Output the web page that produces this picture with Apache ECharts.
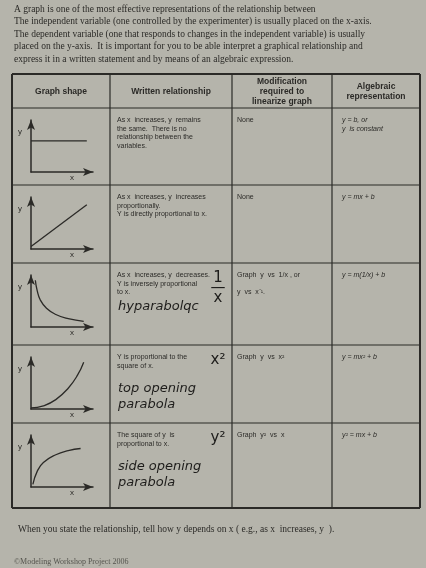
<!DOCTYPE html>
<html><head><meta charset="utf-8">
<script src="https://cdn.jsdelivr.net/npm/echarts@6/dist/echarts.min.js"></script>
<style>html,body{margin:0;padding:0;background:#b5b4ab}#c{width:426px;height:568px}</style>
</head><body><div id="c"></div>
<script>
// hand-read shapes of the little sketches (x 0..10, y 0..10)
const constLine = [[0, 6], [9, 6]];
const linear = [[0, 0.5], [9, 8.5]];
const inverse = [[0.7, 9], [1, 7], [1.5, 5.2], [2.5, 3.6], [4, 2.4], [6, 1.6], [8.5, 1.1]];
const square = [[0, 0.2], [2, 0.6], [4, 1.8], [6, 4], [7.5, 6.5], [8.5, 9]];
const sideRoot = [[0.3, 0.5], [1, 3], [2, 4.7], [4, 6.2], [6, 7], [8, 7.4]];
const shapes = [constLine, linear, inverse, square, sideRoot];

const written = [
  "As x  increases, y  remains\nthe same.  There is no\nrelationship between the\nvariables.",
  "As x  increases, y  increases\nproportionally.\nY is directly proportional to x.",
  "As x  increases, y  decreases.\nY is inversely proportional\nto x.",
  "Y is proportional to the\nsquare of x.",
  "The square of y  is\nproportional to x."
];
const notes = ["", "", "hyparabolqc", "top opening\nparabola", "side opening\nparabola"];
const marks = ["", "", "1\n—\nx", "x²", "y²"];
const modification = ["None", "None", "Graph  y  vs  1/x , or\n\ny  vs  x⁻¹.", "Graph  y  vs  x²", "Graph  y²  vs  x"];
const algebraic = ["y = b, or\ny  is constant", "y = mx + b", "y = m(1/x) + b", "y = mx² + b", "y² = mx + b"];
const headers = ["Graph shape", "Written relationship", "Modification\nrequired to\nlinearize graph", "Algebraic\nrepresentation"];

const cols = [12, 110, 232, 332, 420];
const rows = [74, 108, 185, 263, 345, 423, 508];
const ink = '#2b2a27';

const chart = echarts.init(document.getElementById('c'));
const g = [];
rows.forEach((y, i) => g.push({type: 'line', shape: {x1: cols[0], y1: y, x2: cols[4], y2: y},
  style: {stroke: ink, lineWidth: (i === 0 || i === rows.length - 1) ? 2 : 1.2}}));
cols.forEach((x, i) => g.push({type: 'line', shape: {x1: x, y1: rows[0], x2: x, y2: rows[rows.length - 1]},
  style: {stroke: ink, lineWidth: (i === 0 || i === 4) ? 2 : 1.2}}));
headers.forEach((h, i) => g.push({type: 'text', x: (cols[i] + cols[i + 1]) / 2, y: (rows[0] + rows[1]) / 2 + 1,
  style: {text: h, align: 'center', verticalAlign: 'middle', font: 'bold 8.5px Liberation Sans', fill: ink, lineHeight: 10}}));
g.push({type: 'text', x: 14, y: 3, style: {text:
  "A graph is one of the most effective representations of the relationship between\nThe independent variable (one controlled by the experimenter) is usually placed on the x-axis.\nThe dependent variable (one that responds to changes in the independent variable) is usually\nplaced on the y-axis.  It is important for you to be able interpret a graphical relationship and\nexpress it in a written statement and by means of an algebraic expression.",
  font: '9.5px Liberation Serif', fill: ink, lineHeight: 12.5}});
g.push({type: 'text', x: 18, y: 524, style: {text: "When you state the relationship, tell how y depends on x ( e.g., as x  increases, y  ).",
  font: '9.5px Liberation Serif', fill: ink}});
g.push({type: 'text', x: 14, y: 558, style: {text: "©Modeling Workshop Project 2006", font: '8px Liberation Serif', fill: '#55544e'}});

const grids = [], xAxes = [], yAxes = [], series = [];
for (let i = 0; i < 5; i++) {
  const top = rows[i + 1];
  grids.push({left: 31, top: top + 12, width: 62, height: 52});
  const ax = {gridIndex: i, type: 'value', min: 0, max: 10, splitLine: {show: false},
    axisTick: {show: false}, axisLabel: {show: false},
    axisLine: {show: true, symbol: ['none', 'arrow'], symbolSize: [6, 10], lineStyle: {color: ink, width: 1.5}}};
  xAxes.push(ax); yAxes.push(Object.assign({}, ax));
  series.push({type: 'line', xAxisIndex: i, yAxisIndex: i, data: shapes[i], smooth: true, symbol: 'none',
    lineStyle: {color: ink, width: 1.3}});
  g.push({type: 'text', x: 18, y: top + 20, style: {text: 'y', font: '8px Liberation Sans', fill: ink}});
  g.push({type: 'text', x: 70, y: top + 66, style: {text: 'x', font: '8px Liberation Sans', fill: ink}});
  g.push({type: 'text', x: cols[1] + 7, y: top + 8, style: {text: written[i], font: '7px Liberation Sans', fill: ink, lineHeight: 8.5}});
  g.push({type: 'text', x: cols[1] + 8, y: top + 36, style: {text: notes[i], font: 'italic 13px DejaVu Sans', fill: '#1e1d1b', lineHeight: 16}});
  g.push({type: 'text', x: cols[2] - 14, y: top + 10, style: {text: marks[i], align: 'center', font: '15px DejaVu Sans', fill: '#1e1d1b', lineHeight: 10}});
  g.push({type: 'text', x: cols[2] + 5, y: top + 8, style: {text: modification[i], font: '7px Liberation Sans', fill: ink, lineHeight: 8.5}});
  g.push({type: 'text', x: cols[3] + 10, y: top + 8, style: {text: algebraic[i], font: 'italic 7px Liberation Sans', fill: ink, lineHeight: 8.5}});
}

chart.setOption({backgroundColor: '#b5b4ab', animation: false, grid: grids, xAxis: xAxes, yAxis: yAxes, series: series, graphic: g});
</script></body></html>
